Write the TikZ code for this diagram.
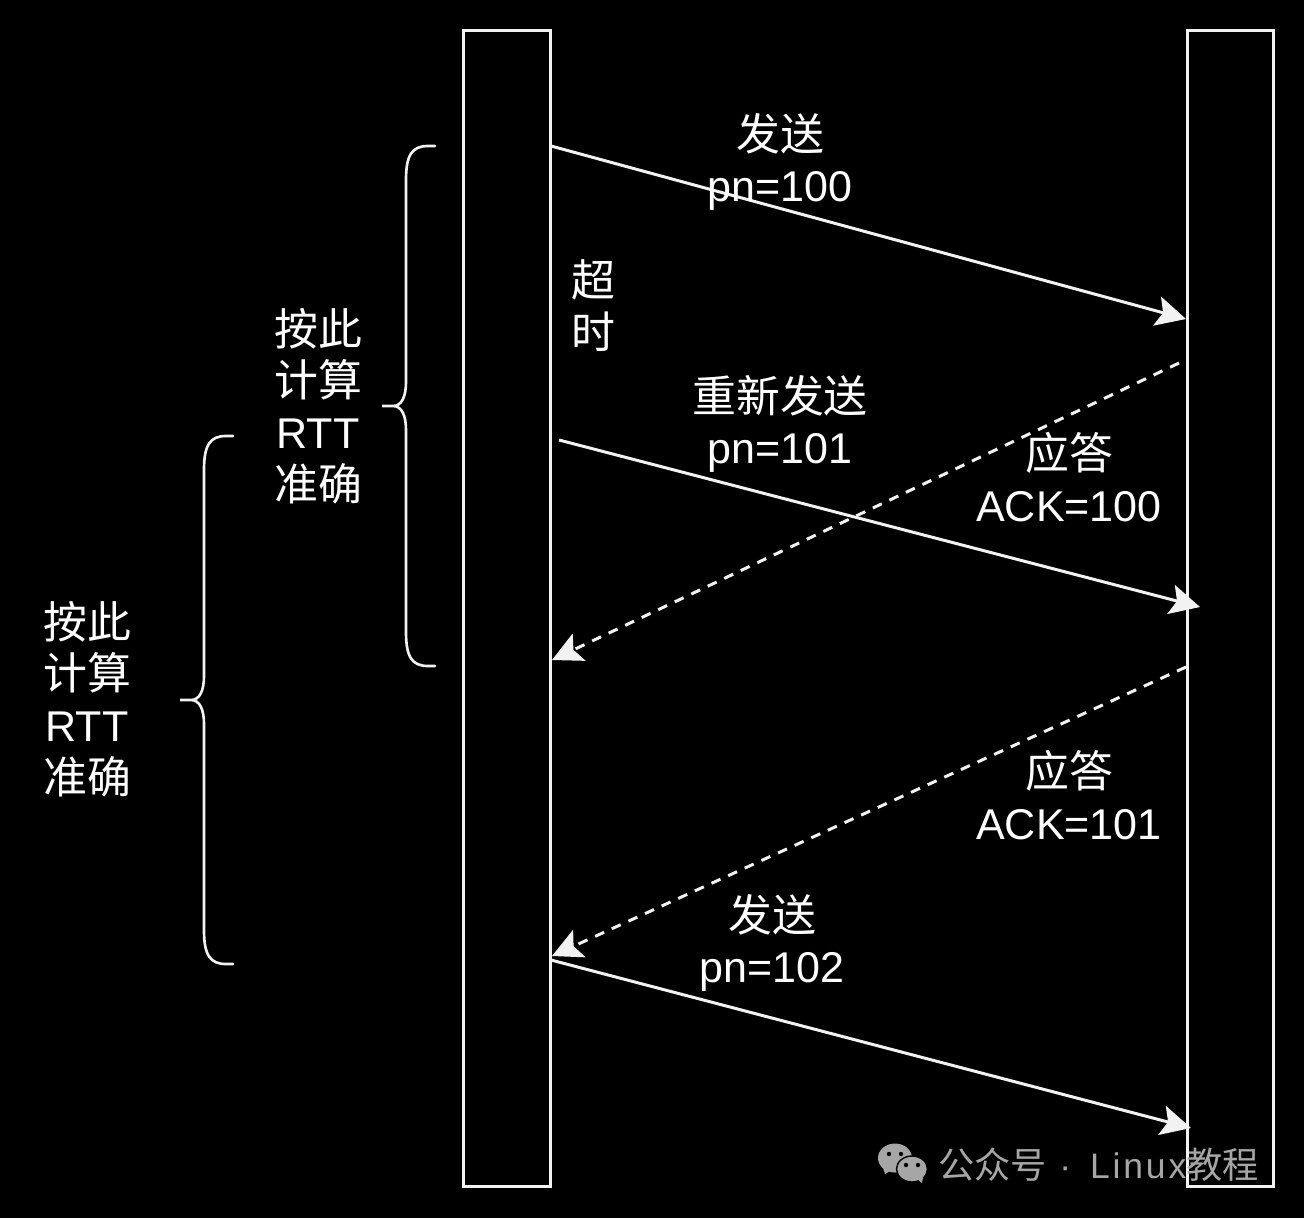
\documentclass[tikz,border=0pt]{standalone}
\usepackage{xcolor}
\usepackage{fontspec}
\setmainfont{Liberation Sans}
\newfontfamily\cjk[Scale=1.02]{Noto Sans CJK SC}
\newfontfamily\wmlatin[LetterSpace=8]{Liberation Sans}
\usetikzlibrary{arrows.meta, positioning}
\definecolor{trait}{HTML}{F2F2F2}
\definecolor{filigrane}{HTML}{A6A6A6}
\tikzset{
  lane/.style={draw=trait, line width=1.7pt, minimum width=49.3pt, minimum height=658.2pt, inner sep=0pt},
  envoi/.style={draw=trait, line width=1.7pt, -{Stealth[length=17pt, width=17pt, inset=3.5pt]}},
  retour/.style={envoi, dash pattern=on 5.6pt off 4.8pt},
  accolade/.style={draw=trait, line width=1.5pt, line cap=round},
  etiquette/.style={text=white, align=center, inner sep=0pt, font=\fontsize{24.5}{29.5}\selectfont},
}
\begin{document}
\begin{tikzpicture}[x=0.02cm, y=-0.02cm]
    \fill[black] (0,0) rectangle (1304,1218);
    \useasboundingbox (0,0) rectangle (1304,1218);
    \node[lane] (emetteur) at (507,608.5) {};
    \node[lane] (recepteur) at (1230.5,608.5) {};
    % extremites des fleches
    \coordinate (depart1) at (551,146);
    \coordinate (arrivee1) at (1186,319);
    \coordinate (depart2) at (1179,363);
    \coordinate (arrivee2) at (552,660);
    \coordinate (depart3) at (559,440);
    \coordinate (arrivee3) at (1200,607);
    \coordinate (depart4) at (1186,667);
    \coordinate (arrivee4) at (552,956);
    \coordinate (depart5) at (551,960);
    \coordinate (arrivee5) at (1191,1128);
    \draw[envoi] (depart1) -- (arrivee1);
    \draw[retour] (depart2) -- (arrivee2);
    \draw[envoi] (depart3) -- (arrivee3);
    \draw[retour] (depart4) -- (arrivee4);
    \draw[envoi] (depart5) -- (arrivee5);
    % accolades
    \foreach \x/\haut/\milieu/\bas in {406/146/406/666, 204/436/700/964} {
      \draw[accolade] (\x+29,\haut) -- (\x+22,\haut)
        .. controls (\x+6,\haut) and (\x,\haut+9) .. (\x,\haut+34)
        -- (\x,\milieu-24)
        .. controls (\x,\milieu-10) and (\x-4,\milieu) .. (\x-13,\milieu)
        -- (\x-24,\milieu) -- (\x-13,\milieu)
        .. controls (\x-4,\milieu) and (\x,\milieu+10) .. (\x,\milieu+24)
        -- (\x,\bas-34)
        .. controls (\x,\bas-9) and (\x+6,\bas) .. (\x+22,\bas) -- (\x+29,\bas);
    }
    \node[etiquette] (envoi100) at (780,162) {{\cjk 发送}\\pn=100};
    \node[etiquette] (delai) at (593,306) {{\cjk 超}\\{\cjk 时}};
    \node[etiquette] (envoi101) at (780,424) {{\cjk 重新发送}\\pn=101};
    \node[etiquette] (ack100) at (1069,477) {{\cjk 应答}\\ACK=100};
    \node[etiquette] (ack101) at (1069,795) {{\cjk 应答}\\ACK=101};
    \node[etiquette] (envoi102) at (772,943) {{\cjk 发送}\\pn=102};
    \node[etiquette] (rttun) at (318,406) {{\cjk 按此}\\{\cjk 计算}\\RTT\\{\cjk 准确}};
    \node[etiquette] (rttdeux) at (87,699) {{\cjk 按此}\\{\cjk 计算}\\RTT\\{\cjk 准确}};
    % filigrane
    \fill[filigrane] (895,1158) ellipse [x radius=17, y radius=14.5];
    \fill[filigrane] (883,1168) -- (885,1174) -- (892,1170) -- cycle;
    \fill[filigrane, draw=black, line width=0.8pt] (912,1169) ellipse [x radius=15.5, y radius=13];
    \fill[filigrane] (917,1179) -- (922,1183) -- (923,1177) -- cycle;
    \foreach \x/\y in {889/1154, 901/1154, 906/1165, 918/1165} {
      \fill[black] (\x,\y) circle (2.2);
    }
    \node[text=filigrane, anchor=west, inner sep=0pt, font=\fontsize{20.2}{24}\selectfont] (marque) at (938,1165) {{\cjk 公众号}\hspace{1.5pt} {\wmlatin ·\hspace{3.5pt} Linux}{\cjk 教程}};
\end{tikzpicture}
\end{document}
